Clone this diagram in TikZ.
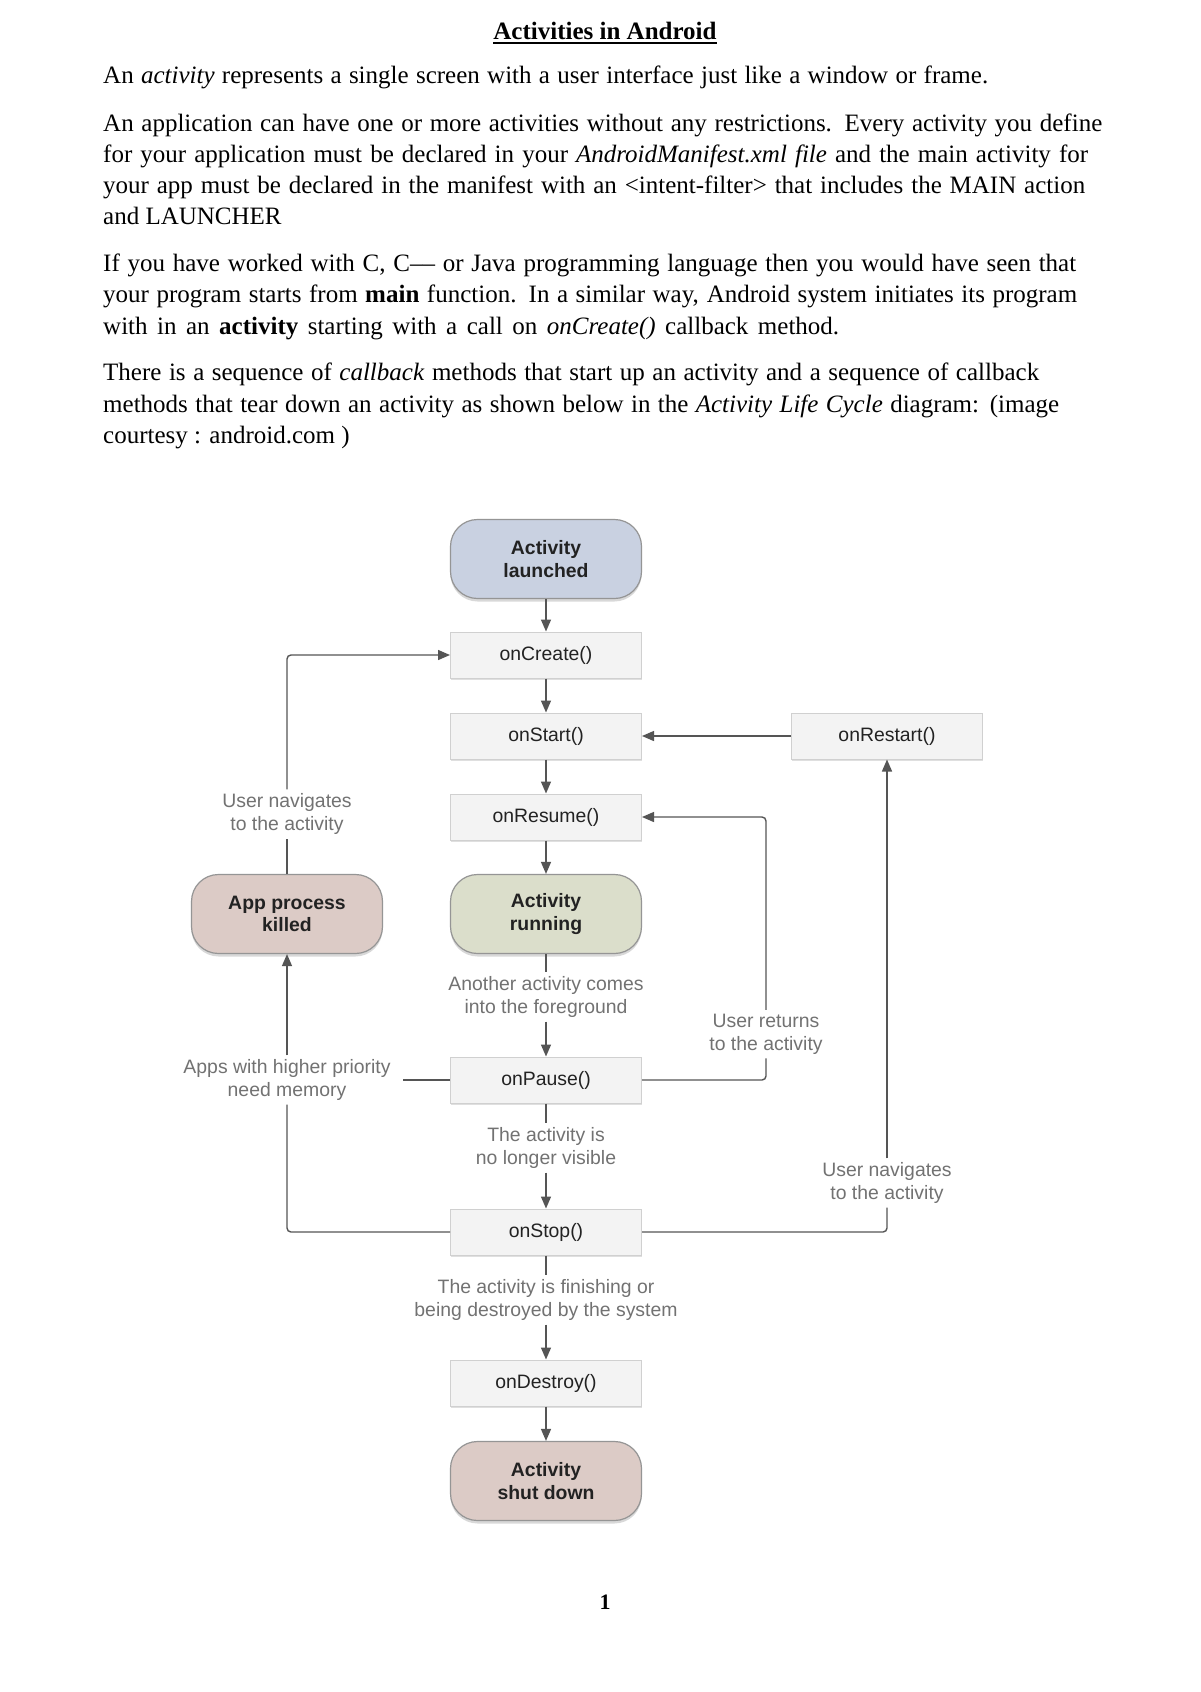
\documentclass[tikz,border=0pt]{standalone}
\usepackage{fontspec}
\setmainfont{Liberation Serif}
\newfontfamily\dsans{Liberation Sans}
\usetikzlibrary{arrows.meta,shadows}
\definecolor{lnc}{HTML}{555555}
\definecolor{boxfill}{HTML}{F3F3F3}
\definecolor{boxline}{HTML}{D0D0D0}
\definecolor{stline}{HTML}{959595}
\definecolor{launchfill}{HTML}{C9D1E1}
\definecolor{runfill}{HTML}{DBDECB}
\definecolor{killfill}{HTML}{DCCBC6}
\definecolor{labc}{HTML}{727272}
\definecolor{txtc}{HTML}{222222}
\begin{document}
\begin{tikzpicture}[x=1pt,y=-1pt,
  bodytxt/.style={anchor=base west, inner sep=0pt, font=\fontsize{25}{31}\selectfont},
  cbox/.style={rectangle, draw=boxline, fill=boxfill, line width=1pt,
    minimum width=191pt, minimum height=46pt, inner sep=0pt,
    font=\dsans\fontsize{19.4}{22.7}\selectfont, text=txtc,
    drop shadow={shadow xshift=0pt, shadow yshift=-2pt, opacity=0.25, fill=gray}},
  cstate/.style={rectangle, rounded corners=27pt, draw=stline, line width=1.2pt,
    minimum width=191pt, minimum height=79pt, inner sep=0pt, align=center,
    font=\dsans\bfseries\fontsize{19.4}{22.7}\selectfont, text=txtc,
    drop shadow={shadow xshift=0pt, shadow yshift=-3pt, opacity=0.3, fill=gray}},
  clab/.style={align=center, inner sep=4pt, text=labc,
    font=\dsans\fontsize{19.4}{22.7}\selectfont},
  ln/.style={draw=lnc, line width=1.4pt, rounded corners=4pt},
  arr/.style={ln, -{Triangle[length=12pt,width=10pt]}}]
\useasboundingbox[fill=white] (0,0) rectangle (1200,1692);

% ---- text ----
\node[anchor=base, inner sep=0pt, font=\bfseries\fontsize{25}{31}\selectfont] (title) at (605,39) {Activities in Android};
\draw[line width=2pt] ([yshift=-4pt]title.base west) -- ([yshift=-4pt]title.base east);

\node[bodytxt] (l1) at (103,83) {\makebox[885pt][s]{An \textit{activity} represents a single screen with a user interface just like a window or frame.}};

\node[bodytxt] (l2) at (103,131) {\makebox[999pt][s]{An application can have one or more activities without any restrictions. Every activity you define}};
\node[bodytxt] (l3) at (103,162) {\makebox[985pt][s]{for your application must be declared in your \textit{AndroidManifest.xml file} and the main activity for}};
\node[bodytxt] (l4) at (103,193) {\makebox[982pt][s]{your app must be declared in the manifest with an <intent-filter> that includes the MAIN action}};
\node[bodytxt] (l5) at (103,224) {and LAUNCHER};

\node[bodytxt] (l6) at (103,271) {\makebox[973pt][s]{If you have worked with C, C–– or Java programming language then you would have seen that}};
\node[bodytxt] (l7) at (103,302) {\makebox[974pt][s]{your program starts from \textbf{main} function. In a similar way, Android system initiates its program}};
\node[bodytxt] (l8) at (103,334) {\makebox[736pt][s]{with in an \textbf{activity} starting with a call on \textit{onCreate()} callback method.}};

\node[bodytxt] (l9) at (103,380) {\makebox[936pt][s]{There is a sequence of \textit{callback} methods that start up an activity and a sequence of callback}};
\node[bodytxt] (l10) at (103,412) {\makebox[956pt][s]{methods that tear down an activity as shown below in the \textit{Activity Life Cycle} diagram: (image}};
\node[bodytxt] (l11) at (103,443) {courtesy : android.com )};

% ---- diagram nodes ----
\node[cstate, fill=launchfill] (launch) at (546,559) {Activity\\launched};
\node[cbox] (create) at (546,655) {onCreate()};
\node[cbox] (start) at (546,736) {onStart()};
\node[cbox] (resume) at (546,817) {onResume()};
\node[cstate, fill=runfill] (run) at (546,914) {Activity\\running};
\node[cbox] (pause) at (546,1080) {onPause()};
\node[cbox] (stop) at (546,1232) {onStop()};
\node[cbox] (destroy) at (546,1383) {onDestroy()};
\node[cstate, fill=killfill] (shut) at (546,1481) {Activity\\shut down};
\node[cbox] (restart) at (887,736) {onRestart()};
\node[cstate, fill=killfill] (killed) at (287,914) {App process\\killed};

% ---- labels ----
\node[clab] (nav1) at (287,814) {User navigates\\to the activity};
\node[clab] (fg) at (546,997) {Another activity comes\\into the foreground};
\node[clab] (ret) at (766,1034) {User returns\\to the activity};
\node[clab] (mem) at (287,1080) {Apps with higher priority\\need memory};
\node[clab] (vis) at (546,1148) {The activity is\\no longer visible};
\node[clab] (nav2) at (887,1183) {User navigates\\to the activity};
\node[clab] (fin) at (546,1300) {The activity is finishing or\\being destroyed by the system};

% ---- connectors ----
\draw[arr] (launch) -- (create);
\draw[arr] (create) -- (start);
\draw[arr] (start) -- (resume);
\draw[arr] (resume) -- (run);
\draw[ln] (run) -- (fg);
\draw[arr] (fg) -- (pause);
\draw[ln] (pause) -- (vis);
\draw[arr] (vis) -- (stop);
\draw[ln] (stop) -- (fin);
\draw[arr] (fin) -- (destroy);
\draw[arr] (destroy) -- (shut);
\draw[arr] (restart) -- (start);
\draw[ln] (pause.east) -| (ret.south);
\draw[arr] (ret.north) |- (resume.east);
\draw[ln] (stop.east) -| (nav2.south);
\draw[arr] (nav2.north) -- (restart.south);
\draw[ln] (stop.west) -| (mem.south);
\draw[arr] (mem.north) -- (killed.south);
\draw[ln, shorten >=8pt] (pause.west) -- (mem.east);
\draw[ln] (killed.north) -- (nav1.south);
\draw[arr] (nav1.north) |- (create.west);

% ---- page number ----
\node[inner sep=0pt, font=\bfseries\fontsize{22}{26}\selectfont] (pnum) at (605,1602) {1};
\end{tikzpicture}
\end{document}
